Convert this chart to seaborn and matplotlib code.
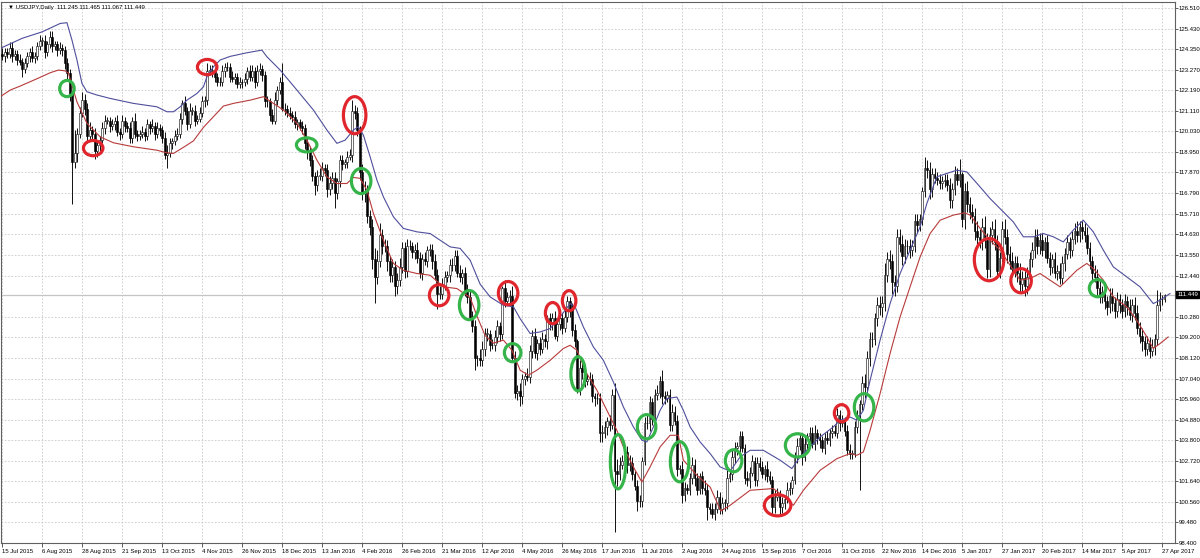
#!/usr/bin/env python3

# ========================================================================
#
# Imports
#
# ========================================================================
import numpy as np
import pandas as pd
import matplotlib as mpl
mpl.use('Agg')
import matplotlib.pyplot as plt
from matplotlib.patches import Ellipse
from matplotlib.transforms import blended_transform_factory
import seaborn as sns


# ========================================================================
#
# Data (one daily bar per weekday, 15 Jul 2015 on)
#
# ========================================================================
symbol = 'USDJPY,Daily'
last_ohlc = [111.245, 111.465, 111.067, 111.449]
first_open = 124.1

close = [
    # 15 Jul 2015
    124.0, 124.2, 124.1, 124.4, 124.0, 124.1, 123.8, 123.7, 123.3, 123.6, 124.0, 124.2, 123.9, 124.0, 124.5, 124.8,
    # 6 Aug 2015
    124.8, 124.2, 124.6, 125.0, 124.5, 124.6, 124.3, 124.4, 124.3, 123.6, 123.1, 122.0, 118.4, 118.9, 119.9, 121.0,
    # 28 Aug 2015
    121.7, 121.2, 119.8, 120.1, 119.9, 119.0, 119.3, 119.6, 120.2, 120.6, 120.6, 120.3, 120.4, 120.6, 120.0, 119.9,
    # 21 Sep 2015
    120.6, 120.3, 120.2, 119.7, 120.6, 119.9, 119.8, 119.9, 120.0, 119.8, 120.4, 120.2, 120.3, 119.9, 120.2, 120.1,
    # 13 Oct 2015
    119.7, 118.8, 118.9, 119.4, 119.5, 119.8, 119.9, 120.7, 121.5, 121.1, 120.4, 121.1, 121.1, 120.6, 120.7, 121.0,
    # 4 Nov 2015
    121.6, 121.7, 123.2, 123.2, 123.2, 122.9, 122.6, 122.6, 123.2, 123.4, 123.4, 122.9, 122.8, 122.9, 122.5, 122.6,
    # 26 Nov 2015
    122.6, 122.8, 123.2, 122.9, 123.2, 122.6, 123.2, 123.3, 123.0, 121.6, 121.6, 120.9, 120.6, 121.7, 122.2, 122.6,
    # 18 Dec 2015
    121.2, 121.2, 121.0, 120.9, 120.8, 120.4, 120.5, 120.3, 120.2, 119.4, 119.0, 118.5, 117.7, 117.2, 117.7, 117.7,
    # 13 Jan 2016
    118.1, 118.0, 117.0, 117.3, 117.6, 116.8, 117.4, 118.5, 118.3, 118.4, 118.7, 118.8, 121.1, 121.0, 120.1, 117.9,
    # 4 Feb 2016
    116.8, 116.9, 115.6, 115.0, 113.3, 112.4, 113.2, 114.6, 114.0, 114.0, 113.2, 112.5, 112.9, 111.9, 112.2, 112.9,
    # 26 Feb 2016
    113.9, 112.7, 114.0, 114.0, 113.7, 113.8, 113.4, 112.6, 113.3, 113.2, 113.8, 113.8, 113.2, 112.5, 111.5, 111.5,
    # 21 Mar 2016
    111.9, 112.4, 112.5, 113.0, 113.0, 113.5, 112.6, 112.4, 112.6, 111.7, 111.3, 110.3, 109.8, 108.1, 108.1, 108.0,
    # 12 Apr 2016
    108.6, 109.4, 109.4, 108.8, 108.8, 109.2, 109.8, 109.4, 111.8, 111.1, 111.3, 111.4, 108.1, 106.3, 106.4, 106.1,
    # 4 May 2016
    107.0, 107.2, 107.1, 108.5, 109.3, 108.4, 108.9, 108.6, 109.1, 109.0, 110.2, 109.9, 110.2, 109.3, 109.9, 110.2,
    # 26 May 2016
    109.7, 110.3, 111.1, 110.7, 109.6, 109.0, 106.5, 107.6, 107.4, 106.9, 107.0, 107.0, 106.1, 106.0, 106.0, 104.2,
    # 17 Jun 2016
    104.2, 104.5, 104.8, 104.6, 106.2, 102.2, 102.0, 102.5, 102.7, 103.2, 102.5, 102.6, 102.0, 101.4, 100.6, 100.6,
    # 11 Jul 2016
    102.7, 104.7, 104.7, 105.8, 104.9, 106.2, 106.3, 106.9, 106.1, 106.0, 106.2, 104.6, 105.3, 104.8, 102.3, 102.3,
    # 2 Aug 2016
    100.9, 101.3, 101.2, 101.8, 102.5, 101.8, 101.2, 101.9, 101.3, 101.2, 100.3, 100.2, 99.9, 100.2, 100.8, 100.2,
    # 24 Aug 2016
    100.5, 100.5, 101.8, 102.0, 102.9, 103.4, 103.5, 104.0, 103.4, 101.8, 101.7, 102.1, 102.7, 101.7, 102.6, 102.4,
    # 15 Sep 2016
    102.0, 102.3, 101.9, 101.7, 100.3, 100.8, 101.0, 100.3, 100.5, 100.7, 101.2, 101.3, 101.7, 102.9, 103.5, 103.9,
    # 7 Oct 2016
    102.9, 103.6, 104.0, 104.2, 103.6, 104.2, 103.9, 103.8, 103.4, 103.9, 103.8, 104.2, 104.3, 104.2, 105.1, 104.7,
    # 31 Oct 2016
    104.8, 104.3, 103.3, 103.1, 103.1, 104.5, 105.1, 105.7, 106.8, 106.6, 108.1, 109.1, 109.1, 110.2, 110.9, 110.8,
    # 22 Nov 2016
    111.0, 112.5, 113.3, 113.2, 112.1, 111.9, 114.5, 114.1, 113.5, 114.0, 114.0, 113.8, 114.0, 115.3, 115.1, 115.4,
    # 14 Dec 2016
    116.9, 118.1, 118.0, 117.0, 117.8, 117.6, 117.5, 117.3, 117.4, 117.5, 117.2, 116.4, 117.0, 117.8, 117.5, 117.8,
    # 5 Jan 2017
    115.4, 116.9, 116.2, 115.8, 115.6, 114.8, 114.5, 114.3, 115.0, 114.3, 112.8, 114.6, 114.9, 114.2, 112.7, 113.4,
    # 27 Jan 2017
    114.9, 114.5, 113.6, 113.2, 112.8, 113.1, 112.6, 112.0, 112.3, 111.9, 112.4, 113.3, 113.8, 114.5, 114.0, 114.3,
    # 20 Feb 2017
    113.8, 114.2, 113.4, 112.9, 113.3, 112.6, 112.7, 112.3, 113.1, 113.6, 114.2, 113.8, 114.4, 114.8, 114.6, 115.0,
    # 14 Mar 2017
    114.8, 114.6, 113.9, 113.2, 112.6, 112.4, 111.8, 111.3, 111.6, 111.1, 110.8, 111.4, 111.0, 110.6, 111.2, 110.9,
    # 5 Apr 2017
    110.6, 111.1, 110.8, 110.4, 110.9, 110.5, 109.7, 109.3, 109.0, 108.6, 108.9, 108.5, 108.7, 109.1, 110.9, 111.2,
    # 27 Apr 2017
    111.245, 111.449,
]

# shadow above / below the body, in tenths of a yen
wick_up = [
    3, 2, 2, 3, 3, 2, 2, 3, 2, 3, 2, 2, 3, 2, 2, 3,
    2, 3, 2, 3, 3, 2, 2, 3, 2, 2, 3, 2, 1, 12, 3, 3,
    4, 3, 3, 4, 2, 3, 3, 2, 3, 3, 2, 2, 3, 2, 3, 2,
    3, 2, 2, 3, 2, 4, 2, 2, 3, 2, 3, 2, 4, 2, 3, 2,
    2, 3, 4, 3, 2, 3, 3, 3, 2, 4, 2, 4, 2, 3, 2, 3,
    3, 2, 4, 3, 3, 2, 2, 3, 3, 2, 3, 2, 3, 2, 2, 3,
    2, 3, 2, 3, 3, 2, 3, 3, 2, 2, 3, 2, 3, 4, 2, 3,
    10, 3, 2, 3, 2, 3, 2, 2, 3, 2, 3, 2, 3, 2, 3, 4,
    3, 2, 3, 4, 3, 3, 2, 3, 3, 2, 3, 3, 6, 3, 3, 2,
    4, 5, 3, 3, 4, 6, 6, 6, 3, 4, 3, 3, 4, 3, 4, 5,
    3, 3, 4, 3, 2, 3, 4, 3, 3, 4, 2, 3, 3, 4, 3, 4,
    4, 3, 2, 3, 4, 3, 3, 4, 2, 3, 3, 4, 3, 3, 2, 5,
    4, 3, 3, 2, 3, 4, 3, 2, 1, 4, 3, 3, 5, 4, 3, 4,
    3, 2, 4, 3, 3, 4, 2, 3, 4, 3, 2, 3, 3, 4, 3, 2,
    3, 4, 3, 2, 3, 3, 1, 4, 3, 2, 3, 4, 3, 2, 3, 3,
    4, 3, 2, 3, 3, 6, 6, 4, 3, 2, 3, 4, 3, 2, 3, 3,
    2, 3, 4, 3, 2, 3, 4, 3, 6, 3, 2, 3, 4, 3, 3, 2,
    4, 3, 2, 3, 4, 3, 3, 2, 3, 4, 3, 2, 3, 3, 4, 3,
    3, 2, 7, 3, 4, 3, 2, 3, 3, 2, 4, 3, 3, 2, 3, 3,
    3, 2, 4, 3, 2, 4, 3, 2, 3, 2, 4, 3, 2, 3, 4, 3,
    3, 4, 2, 3, 3, 4, 2, 3, 2, 3, 4, 2, 3, 3, 4, 3,
    3, 2, 3, 3, 2, 3, 3, 2, 4, 5, 4, 4, 4, 3, 4, 5,
    4, 6, 4, 5, 4, 4, 4, 4, 5, 4, 3, 4, 3, 4, 4, 3,
    2, 6, 4, 4, 3, 3, 3, 3, 3, 3, 3, 4, 3, 4, 3, 8,
    1, 4, 5, 4, 4, 4, 5, 4, 5, 6, 4, 4, 4, 5, 4, 3,
    4, 5, 4, 4, 5, 4, 4, 5, 4, 4, 5, 4, 4, 4, 4, 4,
    4, 3, 4, 3, 3, 4, 3, 4, 4, 3, 4, 3, 4, 4, 5, 3,
    3, 4, 4, 3, 3, 4, 4, 4, 3, 4, 3, 4, 4, 3, 4, 3,
    3, 4, 3, 4, 3, 4, 4, 3, 4, 3, 4, 3, 4, 3, 8, 4,
    2, 0,
]
wick_dn = [
    2, 3, 2, 2, 3, 2, 3, 2, 4, 2, 2, 3, 2, 3, 2, 2,
    3, 3, 2, 2, 3, 2, 3, 2, 3, 3, 3, 4, 22, 3, 5, 2,
    2, 3, 4, 3, 4, 4, 3, 3, 2, 3, 2, 3, 2, 3, 2, 3,
    2, 3, 2, 3, 3, 2, 3, 2, 2, 3, 2, 3, 2, 3, 2, 3,
    3, 2, 7, 2, 3, 2, 2, 2, 3, 2, 3, 2, 2, 3, 2, 2,
    2, 3, 3, 2, 3, 3, 2, 2, 2, 3, 2, 3, 2, 3, 2, 2,
    3, 2, 3, 2, 2, 3, 2, 2, 3, 3, 3, 3, 2, 2, 3, 2,
    1, 3, 2, 2, 3, 2, 3, 2, 3, 3, 4, 3, 3, 5, 3, 2,
    3, 3, 4, 3, 3, 8, 3, 3, 3, 2, 3, 2, 4, 3, 3, 4,
    4, 5, 4, 4, 5, 14, 4, 3, 4, 3, 5, 4, 4, 5, 4, 3,
    3, 4, 3, 2, 3, 4, 3, 3, 4, 2, 3, 3, 4, 3, 8, 3,
    3, 2, 3, 4, 3, 3, 2, 3, 4, 3, 3, 2, 3, 6, 4, 3,
    3, 4, 4, 3, 2, 3, 3, 4, 3, 3, 2, 3, 2, 3, 4, 5,
    4, 3, 2, 3, 4, 3, 4, 3, 2, 3, 4, 3, 3, 2, 3, 3,
    3, 2, 3, 4, 3, 3, 2, 3, 4, 3, 2, 3, 3, 4, 3, 5,
    5, 3, 4, 3, 2, 32, 6, 3, 2, 3, 4, 3, 3, 2, 5, 3,
    3, 2, 3, 4, 3, 2, 3, 3, 4, 3, 2, 3, 3, 2, 4, 3,
    4, 3, 2, 3, 3, 4, 3, 2, 3, 3, 7, 3, 2, 3, 2, 3,
    3, 4, 3, 2, 3, 3, 4, 3, 2, 3, 3, 4, 2, 3, 3, 2,
    2, 3, 3, 2, 4, 3, 2, 4, 3, 3, 2, 3, 3, 2, 3, 2,
    4, 2, 3, 3, 2, 3, 3, 4, 2, 3, 2, 3, 3, 2, 3, 4,
    2, 3, 3, 3, 3, 2, 3, 39, 3, 6, 3, 4, 4, 3, 4, 4,
    5, 4, 4, 4, 6, 5, 3, 4, 5, 4, 4, 4, 3, 3, 4, 3,
    3, 3, 4, 5, 4, 3, 3, 3, 3, 3, 3, 4, 4, 3, 3, 4,
    4, 5, 4, 4, 4, 5, 4, 4, 5, 4, 5, 4, 5, 4, 4, 4,
    4, 4, 5, 4, 4, 4, 5, 4, 4, 5, 4, 4, 4, 4, 4, 4,
    3, 4, 3, 4, 3, 3, 4, 3, 3, 4, 3, 4, 3, 3, 4, 4,
    4, 4, 3, 4, 4, 3, 4, 3, 3, 4, 4, 3, 4, 4, 3, 4,
    4, 3, 4, 3, 4, 4, 3, 4, 5, 4, 3, 4, 3, 4, 3, 3,
    3, 2,
]

date_labels = ['15 Jul 2015', '6 Aug 2015', '28 Aug 2015', '21 Sep 2015',
               '13 Oct 2015', '4 Nov 2015', '26 Nov 2015', '18 Dec 2015',
               '13 Jan 2016', '4 Feb 2016', '26 Feb 2016', '21 Mar 2016',
               '12 Apr 2016', '4 May 2016', '26 May 2016', '17 Jun 2016',
               '11 Jul 2016', '2 Aug 2016', '24 Aug 2016', '15 Sep 2016',
               '7 Oct 2016', '31 Oct 2016', '22 Nov 2016', '14 Dec 2016',
               '5 Jan 2017', '27 Jan 2017', '20 Feb 2017', '14 Mar 2017',
               '5 Apr 2017', '27 Apr 2017']

# the two envelope lines, traced point by point (bar position, price)
upper_bar = [-0.8, 8.0, 16.0, 23.2, 25.9, 27.9, 29.9, 31.9, 33.9, 37.9, 43.2,
             52.5, 61.9, 65.9, 68.5, 71.2, 73.9, 77.9, 80.5, 81.9, 84.5, 87.2,
             91.2, 97.9, 103.9, 105.9, 111.2, 117.9, 124.5, 129.9, 133.9,
             137.2, 140.5, 142.5, 144.5, 147.2, 149.9, 152.5, 156.5, 160.5,
             165.9, 171.2, 175.2, 179.2, 183.2, 187.2, 191.2, 195.2, 200.5,
             204.5, 207.2, 211.2, 215.2, 219.2, 223.2, 227.2, 229.2, 232.5,
             236.5, 240.5, 244.5, 248.5, 252.5, 255.9, 257.9, 260.5, 263.2,
             265.9, 269.9, 272.5, 275.2, 279.2, 283.2, 287.2, 291.2, 295.2,
             299.2, 304.5, 311.2, 315.9, 319.2, 323.2, 327.2, 332.5, 335.2,
             339.2, 341.9, 344.5, 347.2, 351.2, 355.2, 359.2, 363.2, 367.2,
             369.9, 373.9, 377.9, 381.9, 385.9, 391.2, 395.2, 400.5, 404.5,
             408.5, 412.5, 416.5, 420.5, 424.5, 428.5, 432.5, 436.5, 440.5,
             444.5, 449.9, 455.2, 460.5, 463.2, 467.2]
upper_val = [124.39, 124.92, 125.26, 125.70, 125.74, 124.83, 123.78, 122.55,
             122.11, 121.94, 121.76, 121.50, 121.32, 121.06, 121.06, 121.32,
             121.67, 122.02, 122.37, 122.90, 123.42, 123.78, 123.97, 124.16,
             124.30, 123.95, 123.25, 122.20, 121.15, 120.10, 119.40, 119.57,
             120.10, 120.27, 119.83, 118.69, 117.47, 116.59, 115.54, 114.93,
             114.75, 114.66, 114.31, 113.96, 113.88, 113.26, 112.00, 111.33,
             110.89, 110.81, 110.19, 109.41, 109.49, 109.67, 110.28, 110.98,
             110.81, 109.75, 108.70, 108.00, 106.86, 105.55, 104.50, 103.80,
             103.71, 104.50, 105.37, 105.99, 106.07, 105.37, 104.50, 103.71,
             103.10, 102.40, 102.17, 102.92, 103.27, 103.27, 102.75, 102.31,
             102.92, 103.45, 103.97, 104.50, 104.85, 105.02, 104.85, 105.37,
             106.95, 109.06, 110.98, 112.56, 113.79, 115.01, 116.24, 117.64,
             117.82, 117.99, 117.90, 117.11, 116.50, 115.80, 115.27, 114.49,
             114.49, 114.66, 114.49, 114.22, 114.84, 115.36, 114.75, 113.79,
             112.91, 112.38, 111.86, 110.98, 111.16, 111.51]
lower_bar = [-0.8, 3.2, 7.2, 11.2, 15.2, 19.2, 22.5, 25.2, 26.5, 27.9, 29.9,
             33.9, 39.2, 44.5, 52.5, 61.9, 65.9, 68.5, 72.5, 76.5, 80.5, 84.5,
             88.5, 92.5, 99.2, 104.5, 108.5, 112.5, 117.9, 121.9, 125.9, 129.9,
             133.9, 137.9, 140.5, 143.2, 145.9, 148.5, 152.5, 156.5, 160.5,
             165.9, 171.2, 176.5, 181.9, 187.2, 190.0, 193.2, 196.5, 200.5,
             203.9, 207.2, 210.5, 213.9, 219.2, 224.5, 227.2, 229.9, 233.9,
             237.9, 241.9, 245.9, 248.5, 252.5, 255.9, 259.2, 263.2, 267.2,
             270.5, 272.5, 277.9, 283.2, 287.5, 291.2, 299.2, 308.5, 313.9,
             316.5, 320.5, 327.2, 333.9, 339.2, 341.9, 344.5, 347.2, 351.2,
             355.2, 359.2, 363.2, 367.2, 371.2, 375.2, 380.5, 385.0, 387.2,
             391.2, 395.2, 399.2, 403.2, 407.2, 411.2, 415.2, 419.2, 423.2,
             425.9, 429.9, 433.9, 436.5, 440.5, 444.5, 449.9, 453.9, 457.9,
             460.5, 463.2, 466.5]
lower_val = [121.85, 122.20, 122.41, 122.64, 122.87, 123.11, 123.25, 123.21,
             123.08, 122.46, 121.58, 120.45, 119.74, 119.43, 119.22, 119.04,
             118.90, 118.87, 119.19, 119.53, 120.24, 120.80, 121.36, 121.50,
             121.67, 121.85, 121.50, 121.15, 120.45, 119.57, 118.52, 117.64,
             117.29, 117.29, 117.61, 117.56, 116.94, 115.72, 114.31, 113.09,
             112.73, 112.56, 112.47, 111.86, 111.77, 111.30, 110.30, 109.30,
             108.90, 109.06, 108.53, 107.48, 107.22, 107.48, 108.00, 108.62,
             108.79, 108.53, 107.30, 106.43, 105.37, 104.32, 103.45, 102.40,
             101.60, 102.40, 103.45, 104.06, 104.06, 102.75, 101.96, 101.34,
             100.08, 100.38, 101.17, 101.26, 100.73, 100.38, 101.17, 102.22,
             102.83, 103.10, 103.01, 103.18, 104.32, 106.25, 108.36, 110.28,
             111.86, 113.43, 114.66, 115.36, 115.63, 115.75, 115.63, 114.93,
             114.31, 113.79, 113.00, 112.21, 112.30, 112.56, 112.21, 111.86,
             112.21, 112.73, 113.09, 112.82, 112.21, 111.33, 110.81, 110.10,
             109.23, 108.62, 108.88, 109.23]

price_ticks = [126.51, 125.43, 124.35, 123.27, 122.19, 121.11, 120.03,
               118.95, 117.87, 116.79, 115.71, 114.63, 113.55, 112.44,
               110.28, 109.20, 108.12, 107.04, 105.96, 104.88, 103.80,
               102.72, 101.64, 100.56, 99.48, 98.40]

# hand drawn marks: bar, price, width (bars), height (yen)
red_bar = [36.4, 82.0, 141.0, 174.8, 202.4, 220.2, 226.8, 310.2, 335.8, 394.8, 407.6]
red_price = [119.15, 123.41, 120.88, 111.42, 111.53, 110.48, 111.13, 100.38, 105.22, 113.29, 112.18]
red_w = [7.8, 7.8, 9.0, 7.8, 7.8, 5.8, 5.4, 10.6, 5.8, 11.8, 8.2]
red_h = [0.80, 0.80, 1.95, 1.11, 1.22, 1.11, 1.06, 1.11, 0.90, 2.22, 1.27]
green_bar = [25.9, 121.8, 143.6, 186.8, 204.2, 230.4, 246.4, 257.8, 271.0, 292.6, 318.2, 344.8, 438.2]
green_price = [122.28, 119.32, 117.42, 110.90, 108.40, 107.29, 102.67, 104.51, 102.67, 102.72, 103.53, 105.53, 111.79]
green_w = [5.8, 8.2, 7.8, 7.8, 6.6, 5.8, 6.2, 7.4, 7.4, 6.6, 9.8, 7.8, 6.6]
green_h = [0.85, 0.74, 1.32, 1.53, 0.95, 1.80, 2.85, 1.27, 2.11, 1.16, 1.22, 1.43, 0.90]


# ========================================================================
#
# Main
#
# ========================================================================
if __name__ == '__main__':

    sns.set_theme(style='whitegrid')
    plt.rcParams['font.family'] = ['Liberation Sans', 'DejaVu Sans']
    fs = 4.3

    # ========================================================================
    # Build OHLC table
    c = np.array(close)
    o = np.r_[first_open, c[:-1]]
    o[-1] = last_ohlc[0]
    hi = np.maximum(o, c) + np.array(wick_up) / 10.0
    lo = np.minimum(o, c) - np.array(wick_dn) / 10.0
    hi[-1] = last_ohlc[1]
    lo[-1] = last_ohlc[2]
    df = pd.DataFrame({'bar': np.arange(len(c)), 'open': o, 'high': hi,
                       'low': lo, 'close': c})
    df['bull'] = df['close'] >= df['open']
    df['body_lo'] = df[['open', 'close']].min(axis=1)
    df['body_h'] = (df['close'] - df['open']).abs().clip(lower=0.03)

    upper = pd.DataFrame({'bar': upper_bar, 'price': upper_val})
    lower = pd.DataFrame({'bar': lower_bar, 'price': lower_val})

    # ========================================================================
    # Plot
    fig = plt.figure(figsize=(12, 5.58), dpi=100)
    ax = fig.add_axes([0.001, 0.0269, 0.978, 0.9696])
    ax.set_facecolor('white')

    ax.axhline(last_ohlc[3], color='#c4c4c4', lw=0.9, zorder=1)

    ax.vlines(df['bar'], df['low'], df['high'], color='black', lw=0.65, zorder=3)
    up = df[df['bull']]
    dn = df[~df['bull']]
    ax.bar(up['bar'], up['body_h'], bottom=up['body_lo'], width=0.7,
           facecolor='white', edgecolor='black', linewidth=0.4, zorder=4)
    ax.bar(dn['bar'], dn['body_h'], bottom=dn['body_lo'], width=0.7,
           facecolor='black', edgecolor='black', linewidth=0.4, zorder=4)

    sns.lineplot(data=upper, x='bar', y='price', ax=ax, color='#4e4e9c',
                 lw=0.8, zorder=5)
    sns.lineplot(data=lower, x='bar', y='price', ax=ax, color='#b83a3a',
                 lw=0.8, zorder=5)

    for b, p, w, h in zip(red_bar, red_price, red_w, red_h):
        ax.add_patch(Ellipse((b, p), w, h, fill=False, ec='#e0262c',
                             lw=2.3, zorder=6))
    for b, p, w, h in zip(green_bar, green_price, green_w, green_h):
        ax.add_patch(Ellipse((b, p), w, h, fill=False, ec='#35b44a',
                             lw=2.3, zorder=6))

    # ========================================================================
    # Axes, grid, labels
    ax.set_xlim(-0.4, 469.1)
    ax.set_ylim(98.40, 126.83)
    ax.set_xticks(np.arange(len(date_labels)) * 16)
    ax.set_xticklabels(date_labels, ha='left')
    ax.set_yticks(price_ticks)
    ax.set_yticklabels(['%.3f' % v for v in price_ticks])
    ax.yaxis.tick_right()
    ax.set_xlabel('')
    ax.set_ylabel('')
    ax.grid(True, color='#c8c8c8', linestyle=(0, (2, 2)), linewidth=0.6)
    ax.tick_params(axis='x', which='both', bottom=True, length=3, width=0.6,
                   color='#404040', labelsize=fs, pad=1, labelcolor='black')
    ax.tick_params(axis='y', which='both', right=True, left=False, length=2,
                   width=0.6, color='#404040', labelsize=fs, pad=0.6,
                   labelcolor='black')
    for s in ax.spines.values():
        s.set_visible(True)
        s.set_color('#606060')
        s.set_linewidth(0.8)

    tr = blended_transform_factory(ax.transAxes, ax.transData)
    ax.text(1.0022, last_ohlc[3], '%.3f' % last_ohlc[3], transform=tr,
            ha='left', va='center', color='white', fontsize=fs,
            bbox=dict(boxstyle='square,pad=0.2', fc='black', ec='black'),
            zorder=10, clip_on=False)
    ax.text(0.006, 0.995, '\u25bc ' + symbol + '  ' +
            ' '.join('%.3f' % v for v in last_ohlc),
            transform=ax.transAxes, ha='left', va='top', fontsize=fs,
            color='black', zorder=10)

    plt.savefig('out.png', format='png', dpi=100)
